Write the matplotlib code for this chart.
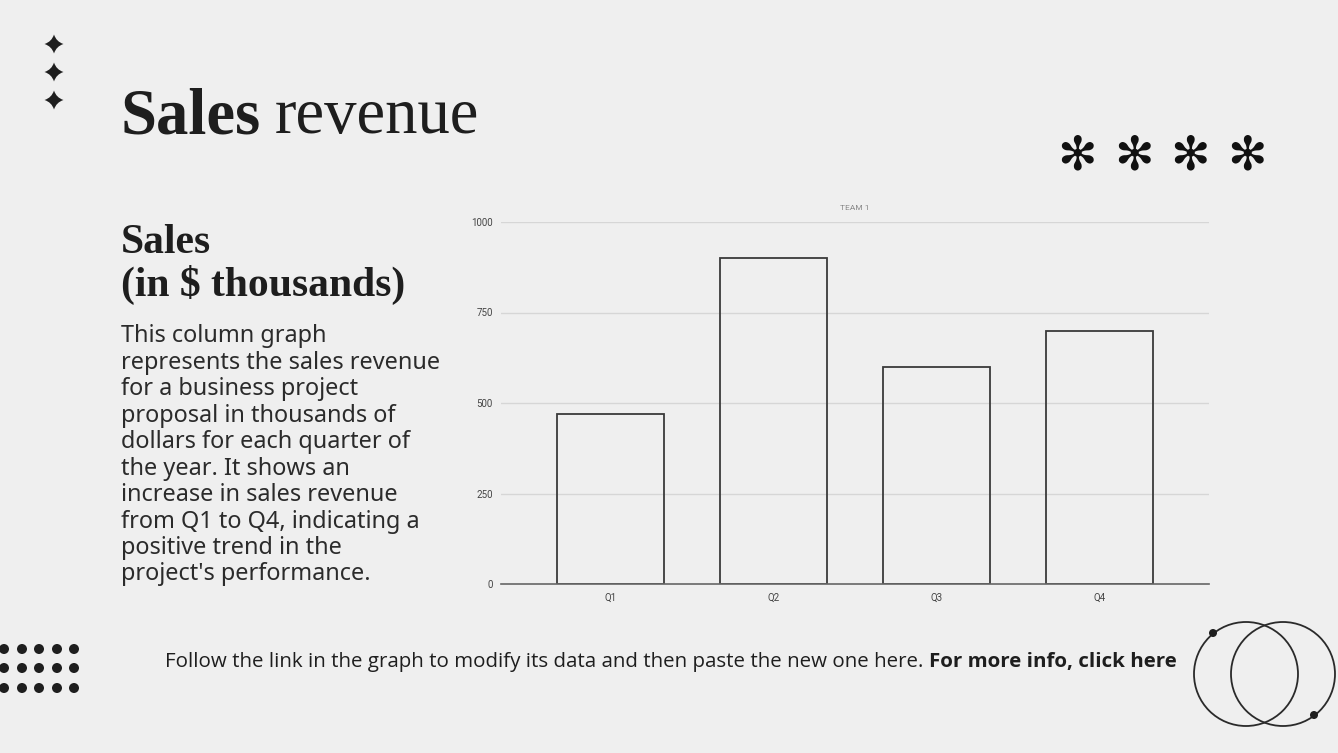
import matplotlib
matplotlib.use("Agg")
import matplotlib.pyplot as plt
from matplotlib.patches import Circle, PathPatch
from matplotlib.path import Path

# ---- data ----
categories = ["Q1", "Q2", "Q3", "Q4"]
values = [470, 900, 600, 700]
yticks = [0, 250, 500, 750, 1000]
series_name = "TEAM 1"

title_bold = "Sales"
title_regular = "revenue"
body_lines = [
    "This column graph",
    "represents the sales revenue",
    "for a business project",
    "proposal in thousands of",
    "dollars for each quarter of",
    "the year. It shows an",
    "increase in sales revenue",
    "from Q1 to Q4, indicating a",
    "positive trend in the",
    "project's performance.",
]
footer_regular = "Follow the link in the graph to modify its data and then paste the new one here."
footer_bold = "For more info, click here"

BG = "#efefef"
INK = "#1e1e1e"
W, H = 1338, 753

fig = plt.figure(figsize=(W / 100, H / 100), dpi=100, facecolor=BG)

# overlay in pixel coordinates for decorations / text
ov = fig.add_axes([0, 0, 1, 1])
ov.set_xlim(0, W)
ov.set_ylim(H, 0)
ov.axis("off")
ov.patch.set_alpha(0)

renderer = fig.canvas.get_renderer()
SERIF = "Liberation Serif"

# Title
t1 = ov.text(120, 133, title_bold, fontsize=46.5, fontweight="bold",
             family=SERIF, color=INK, va="baseline", ha="left")
bb = t1.get_window_extent(renderer)
ov.text(bb.x1 + 15, 133, title_regular, fontsize=46.5, family=SERIF,
        color=INK, va="baseline", ha="left")

# subheading
ov.text(121, 253, "Sales", fontsize=30, fontweight="bold", family=SERIF,
        color=INK, va="baseline", ha="left")
ov.text(121, 296, "(in $ thousands)", fontsize=30, fontweight="bold", family=SERIF,
        color=INK, va="baseline", ha="left")

# body
y0 = 342
for i, line in enumerate(body_lines):
    ov.text(121, y0 + i * 26.5, line, fontsize=16.9, family="Noto Sans",
            color="#2b2b2b", va="baseline", ha="left")

# footer
f1 = ov.text(165, 667, footer_regular + " ", fontsize=14.75, family="Open Sans",
             color=INK, va="baseline", ha="left")
bb = f1.get_window_extent(renderer)
ov.text(bb.x1, 667, footer_bold, fontsize=14.75, family="Open Sans", fontweight="bold",
        color=INK, va="baseline", ha="left")

# four-point stars
def star(cx, cy, r, k=0.24):
    verts = [(cx + r, cy),
             (cx + k * r, cy + k * r), (cx, cy + r),
             (cx - k * r, cy + k * r), (cx - r, cy),
             (cx - k * r, cy - k * r), (cx, cy - r),
             (cx + k * r, cy - k * r), (cx + r, cy),
             (cx + r, cy)]
    codes = [Path.MOVETO] + [Path.CURVE3] * 8 + [Path.CLOSEPOLY]
    return PathPatch(Path(verts, codes), color=INK, lw=0)

for yy in (44, 72, 100):
    ov.add_patch(star(54, yy, 9.5))

# asterisks
for xx in (1077, 1134, 1190, 1247):
    ov.text(xx, 157, "\u273B", fontsize=34, family="DejaVu Sans", color="#111",
            ha="center", va="center")

# dot grid
for yy in (649, 668, 688):
    for xx in (4, 22, 39, 57, 74):
        ov.add_patch(Circle((xx, yy), 5, color=INK, lw=0))

# circles
for cx in (1246, 1283):
    ov.add_patch(Circle((cx, 674), 52, fill=False, ec="#2a2a2a", lw=1.3))
for (dx, dy) in ((1213, 633), (1314, 715)):
    ov.add_patch(Circle((dx, dy), 4, color=INK, lw=0))

# ---- chart ----
ax = fig.add_axes([501 / W, 1 - 584 / H, (1209 - 501) / W, (584 - 222) / H])
ax.patch.set_alpha(0)
x = list(range(len(categories)))
ax.bar(x, values, width=0.656, facecolor="none", edgecolor="#3a3a3a", linewidth=1.3, zorder=3)
ax.set_xlim(-0.672, len(categories) - 1 + 0.672)
ax.set_ylim(0, 1000)
ax.set_yticks(yticks)
ax.set_yticklabels([str(v) for v in yticks])
ax.set_xticks(x)
ax.set_xticklabels(categories)
ax.grid(axis="y", color="#d6d6d6", linewidth=1.0, zorder=0)
ax.set_axisbelow(True)
for s in ("top", "right", "left"):
    ax.spines[s].set_visible(False)
ax.spines["bottom"].set_color("#666666")
ax.spines["bottom"].set_linewidth(1.2)
ax.spines["bottom"].set_zorder(4)
ax.tick_params(axis="both", length=0, labelsize=7, labelcolor="#444444")
ax.tick_params(axis="y", pad=6)
ax.tick_params(axis="x", pad=6)
for lab in ax.get_xticklabels() + ax.get_yticklabels():
    lab.set_family("Roboto")
ax.set_title(series_name, fontsize=6, color="#888888", family="Roboto", pad=9)

fig.savefig("out.png", dpi=100, facecolor=BG)
